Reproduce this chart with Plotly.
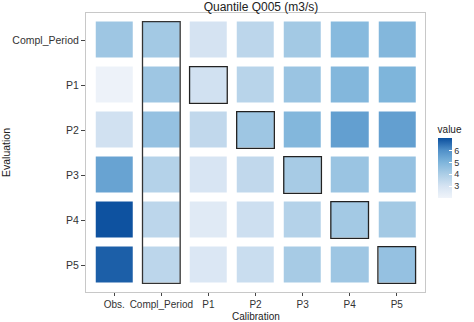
import plotly.graph_objects as go

calibration = ["Obs.", "Compl_Period", "P1", "P2", "P3", "P4", "P5"]
evaluation = ["Compl_Period", "P1", "P2", "P3", "P4", "P5"]

# values (m3/s), rows = evaluation, columns = calibration
row_compl = [4.3, 4.2, 3.0, 3.6, 4.2, 4.8, 4.9]
row_p1 = [2.1, 4.3, 3.1, 3.7, 4.4, 4.9, 5.0]
row_p2 = [3.1, 4.5, 3.5, 4.3, 4.9, 5.6, 5.6]
row_p3 = [5.5, 3.8, 2.9, 3.5, 4.1, 4.4, 4.5]
row_p4 = [7.0, 3.6, 2.6, 3.2, 3.8, 4.2, 4.2]
row_p5 = [6.8, 3.6, 2.8, 3.3, 4.1, 4.3, 4.5]
z = [row_compl, row_p1, row_p2, row_p3, row_p4, row_p5]

colorbar_ticks = [3, 4, 5, 6]

colorscale = [
    [0.0, "#f0f4fa"],
    [0.2, "#d5e3f2"],
    [0.4, "#abcde6"],
    [0.6, "#7db4db"],
    [0.8, "#4f8fc8"],
    [1.0, "#0b4f9e"],
]

W, H = 474, 322
ml, mr, mt, mb = 86, 38, 13, 30
pw = W - ml - mr
ph = H - mt - mb

fig = go.Figure()
fig.add_trace(go.Heatmap(
    x=calibration, y=evaluation, z=z,
    colorscale=colorscale, zmin=2.0, zmax=7.05,
    xgap=10, ygap=9,
    colorbar=dict(
        title=dict(text="value", side="top", font=dict(size=10, color="#222")),
        thickness=14, thicknessmode="pixels",
        len=76, lenmode="pixels",
        x=(449 - ml) / pw, xanchor="left", xpad=0,
        y=(H - mb - 160) / ph, yanchor="middle", ypad=0,
        tickvals=colorbar_ticks, ticks="inside", ticklen=3, tickcolor="white",
        tickfont=dict(size=9, color="#333"),
        outlinewidth=0,
    ),
))

# black outlines: calibration-period column and the diagonal
hw, hh = 0.4, 0.41
ci = calibration.index("Compl_Period")
fig.add_shape(type="rect", xref="x", yref="y",
              x0=ci - hw, x1=ci + hw, y0=-hh, y1=len(evaluation) - 1 + hh,
              line=dict(color="#333", width=1.3))
for name in evaluation:
    if name == "Compl_Period":
        continue
    xi = calibration.index(name)
    yi = evaluation.index(name)
    fig.add_shape(type="rect", xref="x", yref="y",
                  x0=xi - hw, x1=xi + hw, y0=yi - hh, y1=yi + hh,
                  line=dict(color="#222", width=1.3))

fig.add_annotation(text="Calibration", xref="paper", yref="paper",
                   x=0.5, y=(H - mb - 324) / ph, xanchor="center", yanchor="bottom",
                   showarrow=False, font=dict(size=10, color="#222"))

fig.update_layout(
    width=W, height=H,
    margin=dict(l=ml, r=mr, t=mt, b=mb),
    paper_bgcolor="white", plot_bgcolor="white",
    font=dict(family="Liberation Sans, Arial, sans-serif", color="#333"),
    title=dict(text="Quantile Q005 (m3/s)", x=(ml + pw / 2) / W, xanchor="center",
               y=1 - 7 / H, yanchor="middle", font=dict(size=12, color="#222")),
    xaxis=dict(range=[-0.6, 6.6], showgrid=False, zeroline=False, automargin=False,
               showline=True, mirror=True, linecolor="#c8c8c8", linewidth=1,
               ticks="outside", ticklen=3, tickcolor="#444", tickangle=0,
               tickfont=dict(size=10, color="#333")),
    yaxis=dict(range=[5.6, -0.6], showgrid=False, zeroline=False, automargin=False,
               showline=True, mirror=True, linecolor="#c8c8c8", linewidth=1,
               ticks="outside", ticklen=4, tickcolor="#444",
               tickfont=dict(size=10.5, color="#333"),
               title=dict(text="Evaluation", font=dict(size=10.5, color="#222"), standoff=0)),
)

fig.write_html("out.html")
